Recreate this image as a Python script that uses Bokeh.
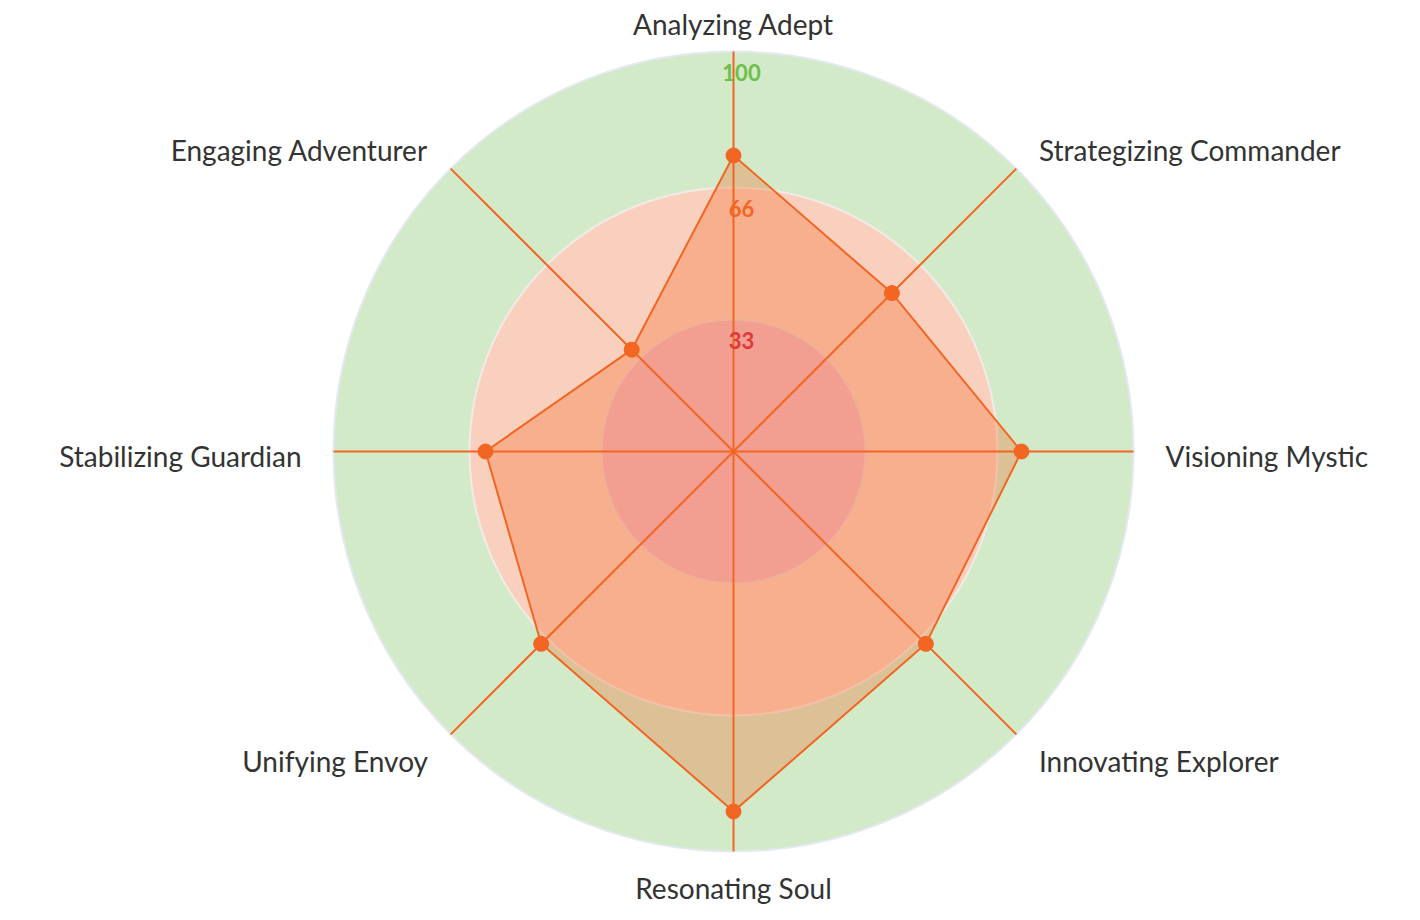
import numpy as np
from bokeh.plotting import figure
from bokeh.models import Range1d, ColumnDataSource
from bokeh.core.properties import value
from bokeh.embed import file_html
from bokeh.resources import INLINE

# ---- data ----
categories = ["Analyzing Adept", "Strategizing Commander", "Visioning Mystic",
              "Innovating Explorer", "Resonating Soul", "Unifying Envoy",
              "Stabilizing Guardian", "Engaging Adventurer"]
scores = [74, 56, 72, 68, 90, 68, 62, 36]
ring_levels = [100, 66, 33]
ring_labels = ["100", "66", "33"]

# ---- styles ----
ring_fill = ["#d2eac8", "#f9d0bd", "#f2b9c3"]
ring_line = ["#e4e8f2", "#f2eae6", "#f0d2cc"]
ring_text = ["#6cbf4a", "#f26522", "#e0393a"]
accent = "#f26522"
label_color = "#333333"
FONT = "Lato"

W, H = 1404, 910
cx_px, cy_px = 733, 451   # centre within canvas (px)
scale = 4.0               # px per unit

p = figure(width=W, height=H, output_backend="svg", toolbar_location=None,
           x_axis_type=None, y_axis_type=None,
           x_range=Range1d(-cx_px / scale, (W - cx_px) / scale),
           y_range=Range1d(-(H - cy_px) / scale, cy_px / scale),
           min_border=0, outline_line_color=None)
p.grid.visible = False
p.background_fill_color = "white"
p.border_fill_color = "white"

# rings
for lvl, fc, lc in zip(ring_levels, ring_fill, ring_line):
    p.circle(x=0, y=0, radius=lvl, fill_color=fc, line_color=lc, line_width=2)

n = len(categories)
angles = np.pi / 2 - np.arange(n) * 2 * np.pi / n
vals = np.array(scores, dtype=float)
xs = vals * np.cos(angles)
ys = vals * np.sin(angles)

# polygon fill
p.patch(list(xs), list(ys), fill_color=accent, fill_alpha=0.3, line_color=None)

# spokes
p.segment(x0=[0] * n, y0=[0] * n,
          x1=list(ring_levels[0] * np.cos(angles)),
          y1=list(ring_levels[0] * np.sin(angles)),
          line_color=accent, line_width=2)

# polygon outline
p.patch(list(xs), list(ys), fill_color=None, line_color=accent, line_width=2)
p.scatter(list(xs), list(ys), size=15, fill_color=accent, line_color=accent)

# ring labels
p.text(x=[2] * len(ring_levels), y=[l - 5.25 for l in ring_levels], text=ring_labels,
       text_color=ring_text, text_font=value(FONT), text_font_style="bold",
       text_font_size="22px", text_align="center", text_baseline="middle")

# category labels
lab_r = 108
lx, ly, al = [], [], []
for a in angles:
    c, s = np.cos(a), np.sin(a)
    lx.append(lab_r * c)
    ly.append(lab_r * s - 1.1)
    if abs(c) < 1e-6:
        al.append("center")
    elif c > 0:
        al.append("left")
    else:
        al.append("right")
src = ColumnDataSource(dict(x=lx, y=ly, t=categories, a=al))
p.text(x="x", y="y", text="t", text_align="a", source=src,
       text_color=label_color, text_font=value(FONT), text_font_size="28px",
       text_baseline="middle")

open("out.html", "w").write(file_html(p, INLINE))
